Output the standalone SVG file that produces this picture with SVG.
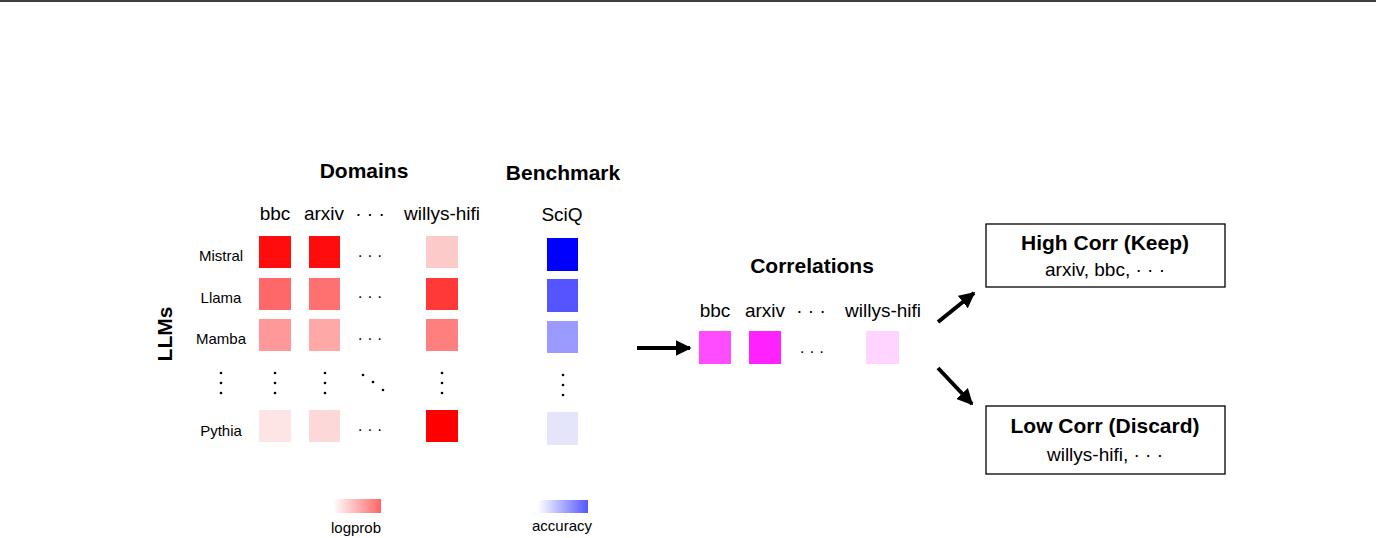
<svg xmlns="http://www.w3.org/2000/svg" width="1376" height="538" viewBox="0 0 1376 538">
<style>
text{font-family:"Liberation Sans",Arial,sans-serif;fill:#000}
.t{font-size:21px;font-weight:bold;text-anchor:middle}
.c{font-size:19px;text-anchor:middle}
.r{font-size:15px;text-anchor:middle}
.d{font-size:16px;text-anchor:middle}
.box{fill:#fff;stroke:#000;stroke-width:1.3}
.arr{stroke:#000;stroke-width:4;fill:none;marker-end:url(#ah)}
</style>
<defs>
<marker id="ah" viewBox="0 0 10 10" refX="9" refY="5" markerWidth="4" markerHeight="4" orient="auto"><path d="M0,0L10,5L0,10z" fill="#000"/></marker>
<linearGradient id="gr"><stop offset="0" stop-color="#fff"/><stop offset="1" stop-color="#f66"/></linearGradient>
<linearGradient id="gb"><stop offset="0" stop-color="#fff"/><stop offset="1" stop-color="#55f"/></linearGradient>
</defs>
<rect width="1376" height="538" fill="#fff"/>
<line x1="0" y1="1" x2="1376" y2="1" stroke="#000" stroke-width="1.5"/>
<g id="matrix">
<text class="t" x="364" y="178">Domains</text>
<text class="t" x="563" y="180">Benchmark</text>
<text class="c" x="275" y="220">bbc</text>
<text class="c" x="324" y="220">arxiv</text>
<text class="c" x="370" y="220">· · ·</text>
<text class="c" x="442" y="220">willys-hifi</text>
<text class="c" x="562" y="221">SciQ</text>
<text class="t" transform="translate(172,334) rotate(-90)">LLMs</text>
<text class="r" x="221" y="261">Mistral</text>
<text class="r" x="221" y="303">Llama</text>
<text class="r" x="221" y="344">Mamba</text>
<text class="r" x="221" y="436">Pythia</text>
<rect x="259" y="236" width="32" height="32" fill="#ff0d0d"/>
<rect x="309" y="236" width="31" height="32" fill="#ff0d0d"/>
<rect x="426" y="236" width="32" height="32" fill="#fdcaca"/>
<rect x="259" y="278" width="32" height="32" fill="#ff6868"/>
<rect x="309" y="278" width="31" height="32" fill="#ff7070"/>
<rect x="426" y="278" width="32" height="32" fill="#ff3838"/>
<rect x="259" y="319" width="32" height="32" fill="#ff9898"/>
<rect x="309" y="319" width="31" height="32" fill="#ffa8a8"/>
<rect x="426" y="319" width="32" height="32" fill="#ff7e7e"/>
<rect x="259" y="410" width="32" height="32" fill="#fde5e5"/>
<rect x="309" y="410" width="31" height="32" fill="#fdd8d8"/>
<rect x="426" y="410" width="32" height="32" fill="#ff0000"/>
<rect x="547" y="238" width="31" height="33" fill="#0000ff"/>
<rect x="547" y="279" width="31" height="33" fill="#5555ff"/>
<rect x="547" y="321" width="31" height="32" fill="#9a9aff"/>
<rect x="547" y="412" width="31" height="33" fill="#e4e4fb"/>
<text class="d" x="370" y="261">· · ·</text>
<text class="d" x="370" y="302">· · ·</text>
<text class="d" x="370" y="344">· · ·</text>
<text class="d" x="370" y="435">· · ·</text>
<g fill="#000">
<circle cx="221" cy="373" r="1.3"/><circle cx="221" cy="383" r="1.3"/><circle cx="221" cy="393" r="1.3"/>
<circle cx="275" cy="373" r="1.3"/><circle cx="275" cy="383" r="1.3"/><circle cx="275" cy="393" r="1.3"/>
<circle cx="325" cy="373" r="1.3"/><circle cx="325" cy="383" r="1.3"/><circle cx="325" cy="393" r="1.3"/>
<circle cx="363" cy="375" r="1.3"/><circle cx="373" cy="382" r="1.3"/><circle cx="383" cy="390" r="1.3"/>
<circle cx="442" cy="373" r="1.3"/><circle cx="442" cy="383" r="1.3"/><circle cx="442" cy="393" r="1.3"/>
<circle cx="563" cy="375" r="1.3"/><circle cx="563" cy="385" r="1.3"/><circle cx="563" cy="395" r="1.3"/>
</g>
<rect x="333" y="499" width="48" height="14" fill="url(#gr)"/>
<text class="r" x="356" y="533">logprob</text>
<rect x="538" y="500" width="50" height="13" fill="url(#gb)"/>
<text class="r" x="562" y="531">accuracy</text>
</g>
<g id="correlations">
<text class="t" x="812" y="273">Correlations</text>
<text class="c" x="715" y="317">bbc</text>
<text class="c" x="765" y="317">arxiv</text>
<text class="c" x="811" y="317">· · ·</text>
<text class="c" x="883" y="317">willys-hifi</text>
<rect x="699" y="331" width="32" height="33" fill="#ff4cff"/>
<rect x="749" y="331" width="32" height="33" fill="#ff22ff"/>
<rect x="866" y="331" width="33" height="33" fill="#ffd4ff"/>
<text class="d" x="812" y="357">· · ·</text>
</g>
<g id="high">
<rect class="box" x="986" y="224" width="239" height="63"/>
<text class="t" x="1105" y="250">High Corr (Keep)</text>
<text class="c" x="1105" y="276">arxiv, bbc, · · ·</text>
</g>
<g id="low">
<rect class="box" x="986" y="406" width="239" height="68"/>
<text class="t" x="1105" y="433">Low Corr (Discard)</text>
<text class="c" x="1105" y="461">willys-hifi, · · ·</text>
</g>
<g id="connectors">
<line class="arr" x1="637" y1="348" x2="690" y2="348"/>
<line class="arr" x1="938" y1="322" x2="974" y2="293"/>
<line class="arr" x1="938" y1="368" x2="972" y2="404"/>
</g>
</svg>
